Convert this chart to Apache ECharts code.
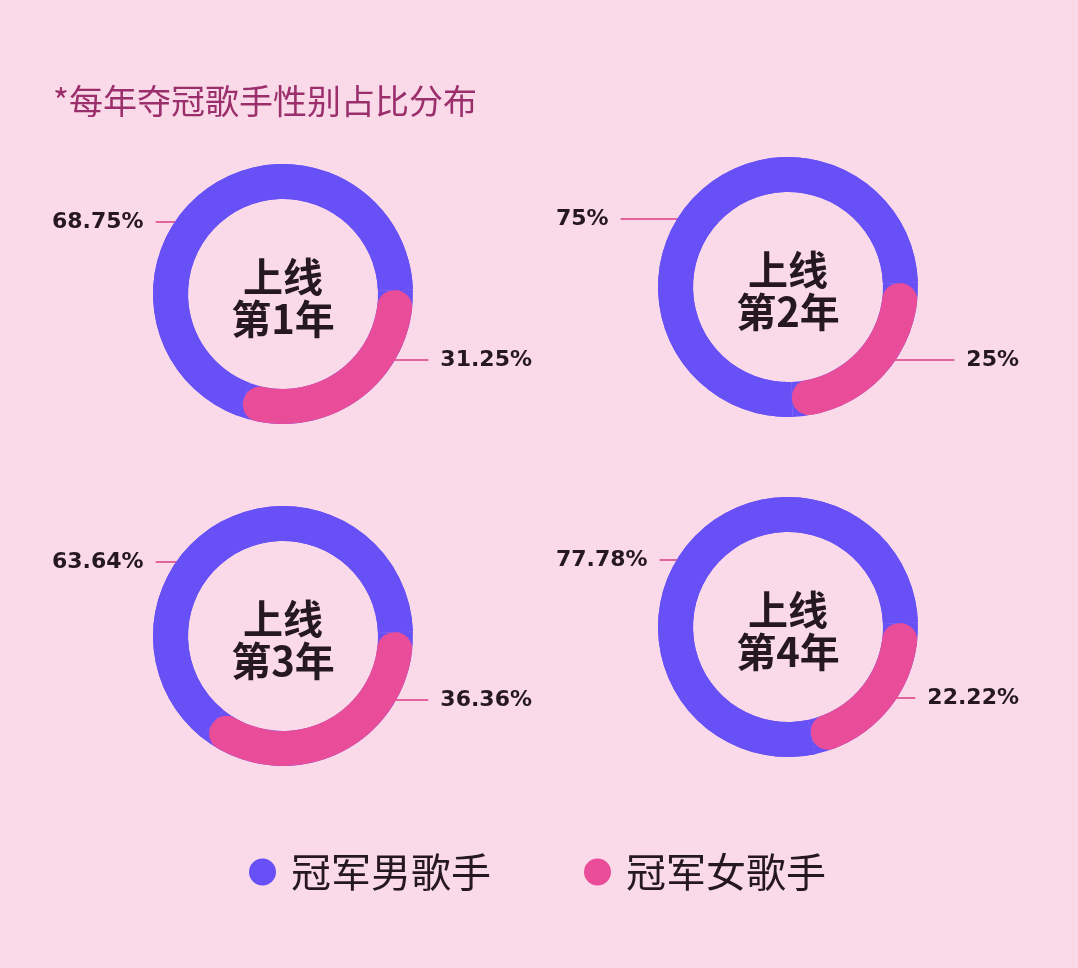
<!DOCTYPE html>
<html>
<head>
<meta charset="utf-8">
<script src="https://cdn.jsdelivr.net/npm/echarts@6/dist/echarts.min.js"></script>
<style>
html,body{margin:0;padding:0;background:#fadae8;}
#chart{width:1078px;height:968px;}
</style>
</head>
<body>
<div id="chart"></div>
<script>
// ---- data ----
const chartTitle = '*每年夺冠歌手性别占比分布';
const categories = ['冠军男歌手', '冠军女歌手'];
const yearLabels = ['上线\n第1年', '上线\n第2年', '上线\n第3年', '上线\n第4年'];
const maleShare = [68.75, 75, 63.64, 77.78];
const femaleShare = [31.25, 25, 36.36, 22.22];

// ---- layout / style ----
const PURPLE = '#6650f6';
const PINK = '#e94c98';
const LINE = '#e2649f';
const TEXT = '#261820';
const centers = [[283, 294], [788, 287], [283, 636], [788, 627]];
const R_OUT = 130, R_IN = 95;
const labelLeftX = [52, 556, 52, 556];
const labelRightX = [532, 1019, 532, 1019];
const maleDy = [-72, -68, -74, -67];
const femaleDy = [66, 73, 64, 71];

function makeLayout(i) {
  return function (p) {
    const [cx, cy] = centers[i];
    const w = p.labelRect.width;
    if (p.dataIndex === 1) { // male label, left side
      const y = cy + maleDy[i];
      const x0 = labelLeftX[i];
      const edge = cx - Math.sqrt(R_OUT * R_OUT - maleDy[i] * maleDy[i]);
      const s = x0 + w + 12;
      return { x: x0, y: y, align: 'left', verticalAlign: 'middle',
        labelLinePoints: [[s, y], [(s + edge) / 2, y], [edge + 2, y]] };
    } else { // female label, right side
      const y = cy + femaleDy[i];
      const x1 = labelRightX[i];
      const edge = cx + Math.sqrt(R_OUT * R_OUT - femaleDy[i] * femaleDy[i]);
      const e = x1 - w - 12;
      return { x: x1, y: y, align: 'right', verticalAlign: 'middle',
        labelLinePoints: [[edge - 2, y], [(e + edge) / 2, y], [e, y]] };
    }
  };
}

const series = [];
const graphics = [];
for (let i = 0; i < yearLabels.length; i++) {
  const dataTop = [
    { name: categories[1], value: femaleShare[i], itemStyle: { color: PINK, borderRadius: 17 } },
    { name: categories[0], value: maleShare[i], itemStyle: { color: PURPLE } }
  ];
  series.push({
    type: 'pie',
    z: 3,
    center: centers[i],
    radius: [R_IN, R_OUT],
    startAngle: 2,
    clockwise: true,
    avoidLabelOverlap: false,
    silent: true,
    data: dataTop,
    label: {
      show: true,
      position: 'outside',
      formatter: '{c}%',
      fontFamily: 'DejaVu Sans',
      fontWeight: 'bold',
      fontSize: 22,
      color: TEXT
    },
    labelLine: { show: true, lineStyle: { color: LINE, width: 2 } },
    labelLayout: makeLayout(i)
  });
  graphics.push({
    type: 'text',
    x: centers[i][0],
    y: centers[i][1] + 4,
    z: 10,
    style: {
      text: yearLabels[i],
      fill: TEXT,
      font: 'bold 40px "Noto Sans CJK SC"',
      lineHeight: 42,
      textAlign: 'center',
      textVerticalAlign: 'middle',
      align: 'center',
      verticalAlign: 'middle'
    }
  });
}
// base purple rings beneath (listed after so legend colours come from the top series)
for (let i = 0; i < yearLabels.length; i++) {
  series.push({
    type: 'pie',
    z: 1,
    center: centers[i],
    radius: [R_IN, R_OUT],
    startAngle: 2,
    silent: true,
    label: { show: false },
    labelLine: { show: false },
    data: [
      { name: categories[1], value: femaleShare[i], itemStyle: { color: PURPLE } },
      { name: categories[0], value: maleShare[i], itemStyle: { color: PURPLE } }
    ]
  });
}

const chart = echarts.init(document.getElementById('chart'));
chart.setOption({
  backgroundColor: '#fadae8',
  animation: false,
  title: {
    text: chartTitle,
    left: 53,
    top: 84,
    padding: 0,
    textStyle: { color: '#9a2f6c', fontSize: 34, fontWeight: 'normal', fontFamily: 'Noto Sans CJK SC' }
  },
  legend: {
    left: 244,
    top: 847,
    icon: 'circle',
    itemWidth: 27,
    itemHeight: 27,
    itemGap: 93,
    selectedMode: false,
    data: [
      { name: categories[0], itemStyle: { color: PURPLE } },
      { name: categories[1], itemStyle: { color: PINK } }
    ],
    textStyle: { color: TEXT, fontSize: 40, fontFamily: 'Noto Sans CJK SC', padding: [0, 0, 0, 10] }
  },
  graphic: graphics,
  series: series
});
</script>
</body>
</html>
